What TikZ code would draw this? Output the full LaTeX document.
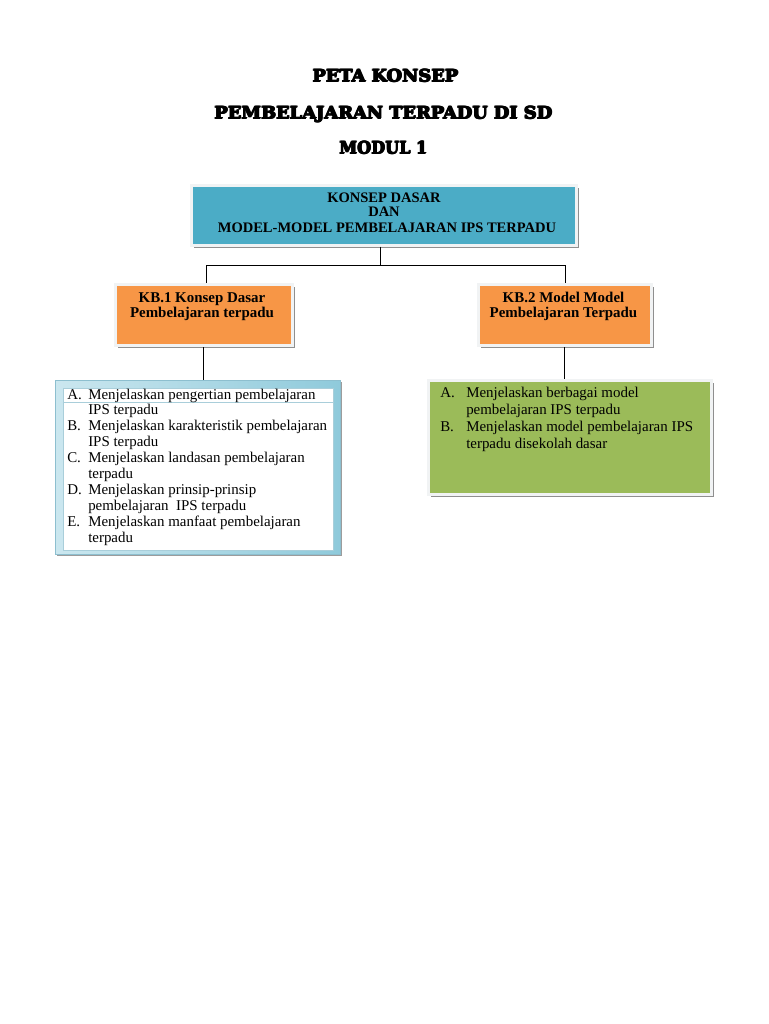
\documentclass[tikz,border=0pt]{standalone}
\usepackage{fontspec}
\setmainfont{Liberation Serif}
\newfontfamily\titlefont{DejaVu Serif}
\newcommand\heavytxt[1]{\rlap{#1}\rlap{\kern.35pt#1}\rlap{\raisebox{.3pt}{#1}}\rlap{\kern.35pt\raisebox{.3pt}{#1}}\rlap{\kern.7pt\raisebox{.15pt}{#1}}\kern.7pt\phantom{#1}}
\usetikzlibrary{shadows}
\definecolor{boxblue}{HTML}{4BACC6}
\definecolor{boxorange}{HTML}{F79646}
\definecolor{boxgreen}{HTML}{9BBB59}
\definecolor{framegray}{HTML}{F1F3F4}
\definecolor{lfa}{HTML}{CBE7EF}
\definecolor{lfb}{HTML}{8FCADB}
\definecolor{lfc}{HTML}{8DBFCF}
\definecolor{lfd}{HTML}{A9CEDA}
\begin{document}
\begin{tikzpicture}[x=0.75pt,y=-0.75pt,
  conn/.style={draw=black, line width=0.75pt},
  boxbase/.style={rectangle, inner sep=0pt, line width=2.25pt, draw=framegray,
    drop shadow={shadow xshift=2.2pt, shadow yshift=-2.2pt, fill=black!55, opacity=.8}},
  ttl/.style={inner sep=0pt, anchor=base},
  hdr/.style={font=\fontsize{10.9}{11}\selectfont\bfseries, inner sep=0pt, anchor=base},
  kbt/.style={font=\fontsize{11.2}{12}\selectfont\bfseries, inner sep=0pt, anchor=base},
  itm/.style={font=\fontsize{11.2}{12}\selectfont, inner sep=0pt, anchor=base west}]
\useasboundingbox (0,0) rectangle (768,1024);
\fill[white] (0,0) rectangle (768,1024);

% titles
\node[ttl] (t1) at (385.5,82) {\resizebox{110.25pt}{9.75pt}{\titlefont\bfseries\heavytxt{PETA KONSEP}}};
\node[ttl] (t2) at (383.5,119) {\resizebox{254.25pt}{9.75pt}{\titlefont\bfseries\heavytxt{PEMBELAJARAN TERPADU DI SD}}};
\node[ttl] (t3) at (383.5,154) {\resizebox{66.75pt}{9.75pt}{\titlefont\bfseries\heavytxt{MODUL 1}}};

% top box
\node[boxbase, fill=boxblue, minimum width=288.75pt, minimum height=45pt] (blue) at (384,215) {};
\node[hdr] (b1) at (384,202) {KONSEP DASAR};
\node[hdr] (b2) at (384,216.5) {DAN};
\node[hdr] (b3) at (387,232) {MODEL-MODEL PEMBELAJARAN IPS TERPADU};

% KB boxes
\node[boxbase, fill=boxorange, minimum width=133.1pt, minimum height=45.75pt] (kb1) at (203.75,315) {};
\node[kbt] (k1a) at (202,302.5) {KB.1 Konsep Dasar};
\node[kbt] (k1b) at (202,317.5) {Pembelajaran terpadu};
\node[boxbase, fill=boxorange, minimum width=130.1pt, minimum height=45.75pt] (kb2) at (564.75,315) {};
\node[kbt] (k2a) at (563.5,302.5) {KB.2 Model Model};
\node[kbt] (k2b) at (563.5,317.5) {Pembelajaran Terpadu};

% left list box
\node[rectangle, inner sep=0pt, minimum width=213.75pt, minimum height=130.5pt,
  left color=lfa, right color=lfb, draw=lfc, line width=0.5pt,
  drop shadow={shadow xshift=1.6pt, shadow yshift=-1.8pt, fill=black!55, opacity=.7}] (lbox) at (197.5,467) {};
\node[rectangle, inner sep=0pt, fill=white, draw=lfd, line width=0.5pt,
  minimum width=202.5pt, minimum height=121.5pt] (lin) at (198,469) {};
\coordinate (sep) at (0,402);
\draw[lfd, line width=0.7pt] (lin.west |- sep) -- (lin.east |- sep);

\foreach \lab/\i in {A./0,B./2,C./4,D./6,E./8}
  \node[itm] (la\i) at (67,{399+15.9*\i}) {\lab};
\foreach \txt/\i in {{Menjelaskan pengertian pembelajaran}/0,{IPS terpadu}/1,
  {Menjelaskan karakteristik pembelajaran}/2,{IPS terpadu}/3,
  {Menjelaskan landasan pembelajaran}/4,{terpadu}/5,
  {Menjelaskan prinsip-prinsip}/6,{pembelajaran\ \ IPS terpadu}/7,
  {Menjelaskan manfaat pembelajaran}/8,{terpadu}/9}
  \node[itm] (lt\i) at (88,{399+15.9*\i}) {\txt};

% right list box
\node[boxbase, fill=boxgreen, minimum width=212.25pt, minimum height=85.5pt] (rbox) at (570,437.5) {};
\foreach \lab/\i in {A./0,B./2}
  \node[itm] (ra\i) at (440,{397+17.2*\i}) {\lab};
\foreach \txt/\i in {{Menjelaskan berbagai model}/0,{pembelajaran IPS terpadu}/1,
  {Menjelaskan model pembelajaran IPS}/2,{terpadu disekolah dasar}/3}
  \node[itm] (rt\i) at (466,{397+17.2*\i}) {\txt};

% connectors
\coordinate (jm) at (380,265);
\coordinate (jl) at (206,265);
\coordinate (jr) at (565,265);
\draw[conn] (blue.south -| jm) -- (jm);
\draw[conn] (jl) -- (jr);
\draw[conn] (jl) -- (jl |- kb1.north);
\draw[conn] (jr) -- (jr |- kb2.north);
\draw[conn] (kb1.south) -- (kb1.south |- lbox.north);
\draw[conn] (kb2.south) -- (kb2.south |- rbox.north);
\end{tikzpicture}
\end{document}
